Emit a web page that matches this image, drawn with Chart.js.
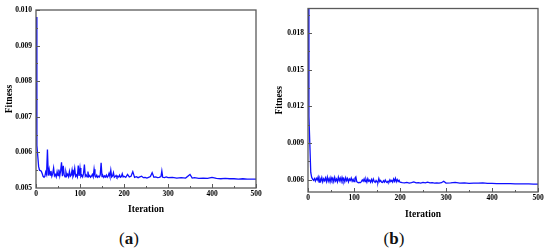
<!DOCTYPE html>
<html>
<head>
<meta charset="utf-8">
<script src="https://cdn.jsdelivr.net/npm/chart.js@4.4.0/dist/chart.umd.min.js"></script>
<style>
  html, body { margin: 0; padding: 0; background: #fff; width: 550px; height: 250px; overflow: hidden; }
  .panel { position: absolute; top: 0; height: 225px; }
  #wrap-a { left: 0; width: 270px; }
  #wrap-b { left: 275px; width: 275px; }
  .cap { position: absolute; top: 229px; line-height: 20px; font: 17px "Liberation Serif", serif; color: #111; transform: translateX(-50%); }
</style>
</head>
<body>
<div class="panel" id="wrap-a"><canvas id="chart-a" width="270" height="225"></canvas></div>
<div class="panel" id="wrap-b"><canvas id="chart-b" width="275" height="225"></canvas></div>
<div class="cap" style="left:129px">(<b>a</b>)</div>
<div class="cap" style="left:394px">(<b>b</b>)</div>

<script>
// ── Données ───────────────────────────────────────────────────────────────────

const itersA = [
  0, 2, 4, 6, 8, 10, 12, 14, 16, 18,
  20, 22, 24, 26, 28, 30, 32, 34, 36, 38,
  40, 42, 44, 46, 48, 50, 52, 54, 56, 58,
  60, 62, 64, 66, 68, 70, 72, 74, 76, 78,
  80, 82, 84, 86, 88, 90, 92, 94, 96, 98,
  100, 102, 104, 106, 108, 110, 112, 114, 116, 118,
  120, 122, 124, 126, 128, 130, 132, 134, 136, 138,
  140, 142, 144, 146, 148, 150, 152, 154, 156, 158,
  160, 162, 164, 166, 168, 170, 172, 174, 176, 178,
  180, 182, 184, 186, 188, 190, 192, 194, 196, 198,
  200, 204, 208, 212, 216, 220, 224, 228, 232, 236,
  240, 244, 248, 252, 256, 260, 264, 268, 272, 276,
  280, 284, 286, 288, 292, 296, 300, 310, 320, 330,
  340, 350, 355, 360, 370, 380, 390, 400, 410, 420,
  430, 440, 450, 460, 470, 480, 490, 500,
];
const fitnessA = [
  0.0098, 0.0062, 0.0059, 0.0056, 0.0055, 0.00549, 0.00547, 0.00541, 0.00533, 0.00531,
  0.00532, 0.00545, 0.00538, 0.00608, 0.00535, 0.00552, 0.00536, 0.00548, 0.00533, 0.00541,
  0.00556, 0.00534, 0.00538, 0.00531, 0.00546, 0.00535, 0.00552, 0.00534, 0.00548, 0.00572,
  0.00533, 0.00562, 0.00537, 0.00531, 0.00545, 0.00534, 0.00539, 0.00532, 0.00547, 0.00533,
  0.00536, 0.00551, 0.00532, 0.00538, 0.00555, 0.00533, 0.00537, 0.00531, 0.00563, 0.00534,
  0.00556, 0.00532, 0.00536, 0.00531, 0.00541, 0.00566, 0.00533, 0.00537, 0.00531, 0.00546,
  0.00532, 0.00535, 0.0053, 0.00533, 0.00538, 0.00531, 0.00553, 0.00534, 0.00531, 0.00536,
  0.0053, 0.00533, 0.00531, 0.00537, 0.00571, 0.00532, 0.00535, 0.0053, 0.00534, 0.00531,
  0.00536, 0.0053, 0.00533, 0.00541, 0.00532, 0.0055, 0.00531, 0.00534, 0.00543, 0.0053,
  0.00532, 0.00535, 0.0053, 0.00533, 0.00531, 0.00536, 0.0053, 0.00532, 0.0054, 0.00531,
  0.00533, 0.0053, 0.00538, 0.00531, 0.00533, 0.00546, 0.0053, 0.00532, 0.00529, 0.00531,
  0.00533, 0.00529, 0.0053, 0.00528, 0.0053, 0.00532, 0.00543, 0.0053, 0.00531, 0.00529,
  0.0053, 0.00532, 0.00548, 0.0053, 0.00529, 0.00531, 0.00529, 0.0053, 0.00528, 0.00529,
  0.00528, 0.00538, 0.00528, 0.00529, 0.00527, 0.00528, 0.00527, 0.0053, 0.00527, 0.00526,
  0.00527, 0.00526, 0.00526, 0.00525, 0.00526, 0.00525, 0.00525, 0.00525,
];

const itersB = [
  0, 2, 4, 6, 8, 10, 12, 14, 16, 18,
  20, 22, 24, 26, 28, 30, 32, 34, 36, 38,
  40, 42, 44, 46, 48, 50, 52, 54, 56, 58,
  60, 62, 64, 66, 68, 70, 72, 74, 76, 78,
  80, 82, 84, 86, 88, 90, 92, 94, 96, 98,
  100, 102, 104, 106, 108, 110, 112, 114, 116, 118,
  120, 122, 124, 126, 128, 130, 132, 134, 136, 138,
  140, 142, 144, 146, 148, 150, 152, 154, 156, 158,
  160, 162, 164, 166, 168, 170, 172, 174, 176, 178,
  180, 182, 184, 186, 188, 190, 192, 194, 196, 198,
  200, 205, 210, 215, 220, 225, 230, 235, 240, 245,
  250, 255, 260, 265, 270, 275, 280, 285, 290, 295,
  300, 310, 320, 330, 340, 350, 360, 370, 380, 390,
  400, 410, 420, 430, 440, 450, 460, 470, 480, 490,
  500,
];
const fitnessB = [
  0.0201, 0.0112, 0.0089, 0.0066, 0.0062, 0.00605, 0.00595, 0.0061, 0.0059, 0.00612,
  0.00598, 0.00622, 0.0058, 0.0061, 0.0059, 0.00618, 0.00583, 0.00608, 0.00592, 0.00615,
  0.00585, 0.00622, 0.00588, 0.0061, 0.00582, 0.00618, 0.00595, 0.00612, 0.00584, 0.0062,
  0.0059, 0.00606, 0.00583, 0.00621, 0.00592, 0.00614, 0.00586, 0.00619, 0.0059, 0.00609,
  0.00584, 0.00617, 0.00593, 0.00611, 0.00582, 0.00606, 0.00595, 0.00614, 0.00588, 0.00603,
  0.00585, 0.00612, 0.00623, 0.00584, 0.00578, 0.00576, 0.00578, 0.00577, 0.00585, 0.00598,
  0.00588, 0.00607, 0.00585, 0.00603, 0.0058, 0.00609, 0.00588, 0.00597, 0.0058, 0.00602,
  0.00582, 0.00606, 0.00586, 0.00579, 0.00594, 0.00582, 0.00578, 0.0061, 0.00585, 0.00595,
  0.0058, 0.00578, 0.00592, 0.00581, 0.00598, 0.00584, 0.00578, 0.00588, 0.00582, 0.006,
  0.00585, 0.00594, 0.00581, 0.00606, 0.00588, 0.00612, 0.00584, 0.00602, 0.00586, 0.00596,
  0.0058, 0.00576, 0.00574, 0.00578, 0.00573, 0.00576, 0.00582, 0.00574, 0.00577, 0.00573,
  0.00578, 0.00574, 0.0058, 0.00574, 0.00576, 0.00572, 0.00575, 0.00573, 0.00576, 0.00588,
  0.00573, 0.00574, 0.00578, 0.00572, 0.00574, 0.00571, 0.00573, 0.00572, 0.00574, 0.0057,
  0.0057, 0.00569, 0.00569, 0.00568, 0.00568, 0.00567, 0.00567, 0.00566, 0.00566, 0.00565,
  0.00565,
];

// Graduations
const xTicks     = [0, 100, 200, 300, 400, 500];
const xMinor     = [50, 150, 250, 350, 450];
const yTicksA    = [0.005, 0.006, 0.007, 0.008, 0.009, 0.010];
const yMinorA    = [0.0055, 0.0065, 0.0075, 0.0085, 0.0095];
const yTicksB    = [0.006, 0.009, 0.012, 0.015, 0.018];
const yMinorB    = [0.0075, 0.0105, 0.0135, 0.0165, 0.0195];

const LINE_COLOR = "#0f0fff";
const FRAME_COLOR = "#5a5a5a";
const SERIF = "'Liberation Serif', 'Times New Roman', serif";

// ── Cadre + graduations intérieures ───────────────────────────────────────────

const framePlugin = {
  id: "frame",
  afterDatasetsDraw(chart, args, opts) {
    const { ctx, chartArea: a, scales: { x, y } } = chart;
    ctx.save();
    ctx.strokeStyle = FRAME_COLOR;
    ctx.lineWidth = 1.3;
    ctx.strokeRect(a.left, a.top, a.right - a.left, a.bottom - a.top);
    ctx.lineWidth = 1;
    ctx.beginPath();
    const tickX = (v, len) => {
      const px = Math.round(x.getPixelForValue(v)) + 0.5;
      ctx.moveTo(px, a.bottom); ctx.lineTo(px, a.bottom - len);
    };
    const tickY = (v, len) => {
      const py = Math.round(y.getPixelForValue(v)) + 0.5;
      if (py < a.top || py > a.bottom) return;
      ctx.moveTo(a.left, py); ctx.lineTo(a.left + len, py);
    };
    xTicks.forEach(v => tickX(v, 4));
    xMinor.forEach(v => tickX(v, 2));
    opts.yMajor.forEach(v => tickY(v, 4));
    opts.yMinor.forEach(v => tickY(v, 2));
    ctx.stroke();
    ctx.restore();
  },
};

// ── Construction d'un panneau ─────────────────────────────────────────────────

function buildChart(id, iters, fit, cfg) {
  const ctx = document.getElementById(id).getContext("2d");
  return new Chart(ctx, {
    type: "line",
    data: {
      datasets: [{
        data: iters.map((it, i) => ({ x: it, y: fit[i] })),
        borderColor: LINE_COLOR,
        borderWidth: 1.3,
        pointRadius: 0,
        tension: 0,
      }],
    },
    plugins: [framePlugin],
    options: {
      responsive: false,
      animation: false,
      devicePixelRatio: 1,
      layout: { padding: cfg.padding },
      plugins: {
        legend: { display: false },
        tooltip: { enabled: false },
        frame: { yMajor: cfg.yTicks, yMinor: cfg.yMinor },
      },
      scales: {
        x: {
          type: "linear",
          min: 0,
          max: 500,
          afterBuildTicks: s => { s.ticks = xTicks.map(v => ({ value: v })); },
          afterFit: s => { s.height = cfg.xHeight; },
          grid: { display: false, drawTicks: false },
          border: { display: false },
          ticks: { color: "#000", padding: cfg.xTickPad, maxRotation: 0, autoSkip: false,
                   font: { family: SERIF, size: 7.5, weight: "bold" } },
          title: { display: true, text: "Iteration", color: "#000",
                   padding: { top: 0, bottom: cfg.xTitlePad },
                   font: { family: SERIF, size: 9.5, weight: "bold", lineHeight: 1 } },
        },
        y: {
          type: "linear",
          min: cfg.yMin,
          max: cfg.yMax,
          afterBuildTicks: s => { s.ticks = cfg.yTicks.map(v => ({ value: v })); },
          afterFit: s => { s.width = cfg.yWidth; },
          grid: { display: false, drawTicks: false },
          border: { display: false },
          ticks: { color: "#000", padding: 4, autoSkip: false,
                   callback: v => v.toFixed(3),
                   font: { family: SERIF, size: 7.5, weight: "bold" } },
          title: { display: true, text: "Fitness", color: "#000",
                   padding: { top: cfg.yTitlePad, bottom: 0 },
                   font: { family: SERIF, size: 9.5, weight: "bold", lineHeight: 1 } },
        },
      },
    },
  });
}

buildChart("chart-a", itersA, fitnessA, {
  padding: { top: 10, right: 14, left: 0, bottom: 0 },
  yMin: 0.005, yMax: 0.010, yTicks: yTicksA, yMinor: yMinorA,
  yWidth: 36, xHeight: 37, xTickPad: 2, xTitlePad: 11, yTitlePad: 5,
});

buildChart("chart-b", itersB, fitnessB, {
  padding: { top: 5, right: 12, left: 0, bottom: 0 },
  yMin: 0.005, yMax: 0.020, yTicks: yTicksB, yMinor: yMinorB,
  yWidth: 33, xHeight: 33, xTickPad: 2, xTitlePad: 6, yTitlePad: 0,
});
</script>
</body>
</html>
